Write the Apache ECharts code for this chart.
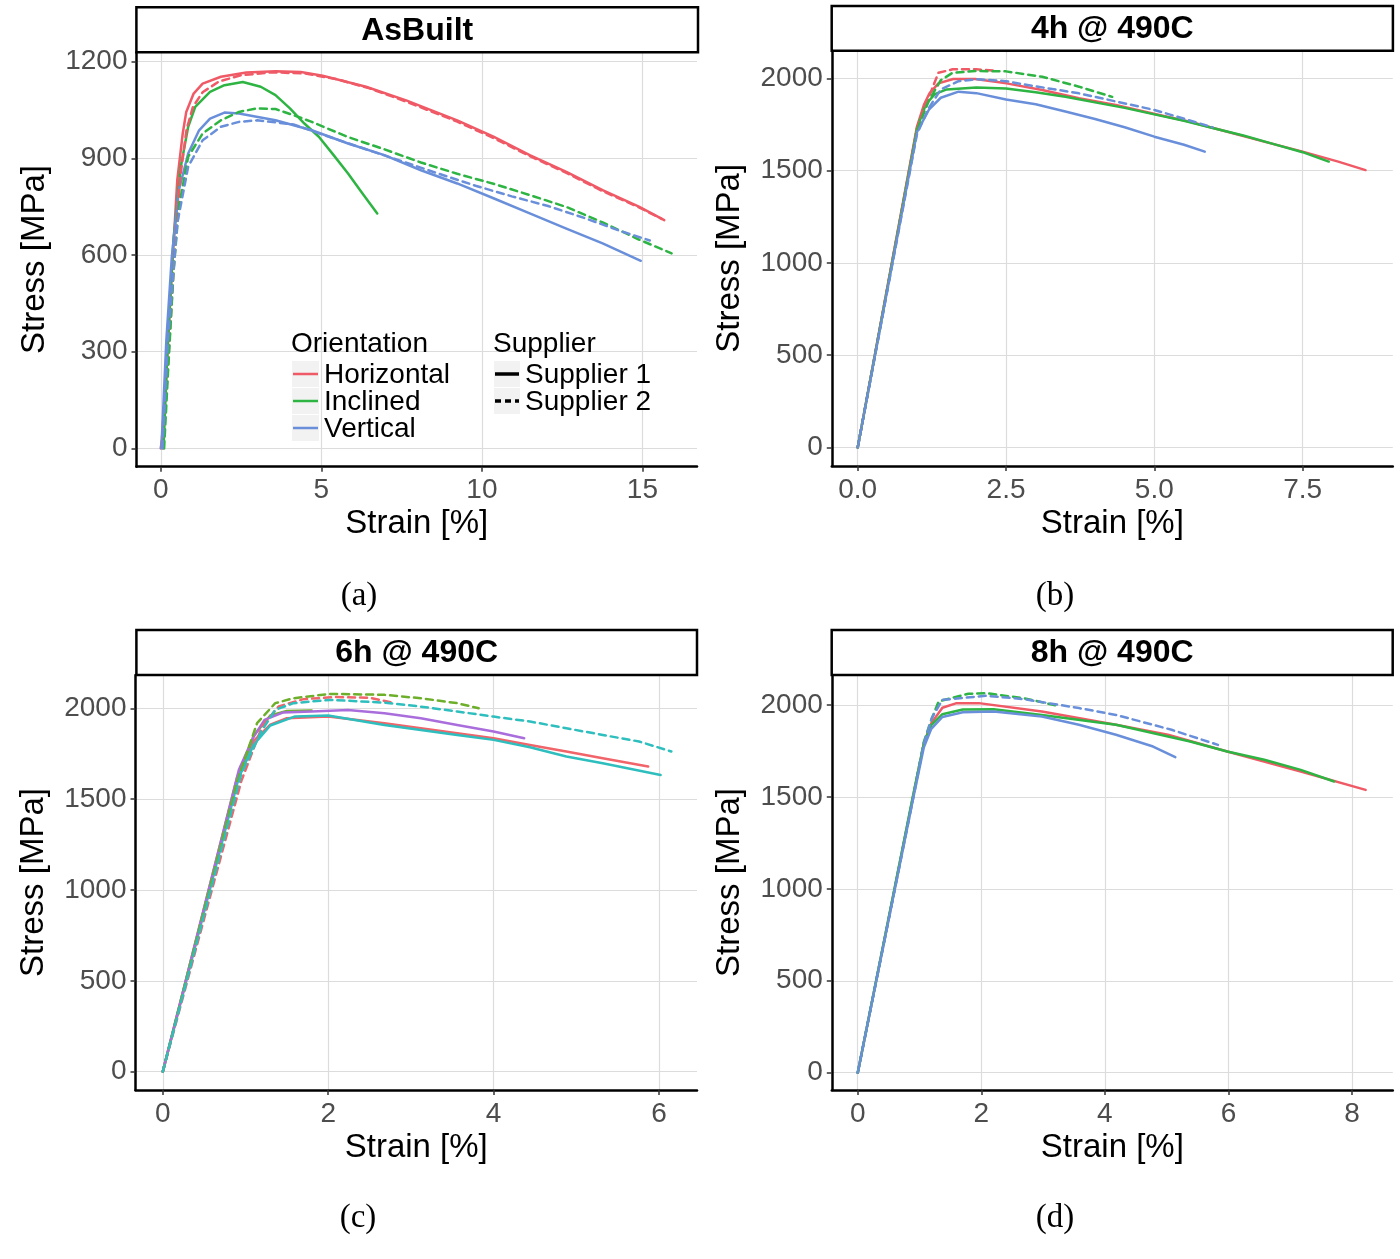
<!DOCTYPE html>
<html>
<head>
<meta charset="utf-8">
<script src="https://cdn.jsdelivr.net/npm/echarts@6/dist/echarts.min.js"></script>
<style>
html, body { margin: 0; padding: 0; background: #fff; }
#chart { width: 1400px; height: 1259px; }
</style>
</head>
<body>
<div id="chart"></div>
<script>
// panel titles and axis ticks
const panelTitles = ['AsBuilt', '4h @ 490C', '6h @ 490C', '8h @ 490C'];
const captions = ['(a)', '(b)', '(c)', '(d)'];
const xTicks = [[0, 5, 10, 15], [0, 2.5, 5, 7.5], [0, 2, 4, 6], [0, 2, 4, 6, 8]];
const yTicks = [[0, 300, 600, 900, 1200], [0, 500, 1000, 1500, 2000], [0, 500, 1000, 1500, 2000], [0, 500, 1000, 1500, 2000]];
const xRanges = [[-0.76, 16.7], [-0.437, 9.02], [-0.33, 6.46], [-0.42, 8.66]];
const yRanges = [[-57, 1229], [-101, 2150], [-101, 2183], [-94, 2163]];

// (a) AsBuilt  [strain %, stress MPa]
const asBuiltHorizontal1 = [[0,0],[0.03,26],[0.17,233],[0.34,543],[0.51,832],[0.68,977],[0.79,1044],[1.02,1101],[1.30,1132],[1.87,1153],[2.66,1166],[3.57,1170],[4.36,1168],[5.04,1156],[6.39,1122],[7.64,1080],[9.23,1018],[10.36,967],[11.49,910],[12.63,858],[13.76,801],[14.89,750],[15.68,708]];
const asBuiltHorizontal2 = [[0.05,0],[0.2,220],[0.4,560],[0.6,840],[0.8,990],[1.0,1060],[1.3,1105],[1.8,1138],[2.5,1158],[3.5,1167],[4.5,1163],[5.5,1145],[6.5,1117],[7.64,1076],[9.23,1014],[10.36,963],[11.49,907],[12.63,855],[13.76,798],[14.89,748],[15.6,712]];
const asBuiltInclined1 = [[0.08,0],[0.22,336],[0.39,646],[0.62,874],[0.85,998],[1.07,1060],[1.53,1106],[1.98,1127],[2.55,1137],[3.11,1122],[3.57,1096],[4.02,1055],[4.47,1008],[4.92,967],[5.38,910],[5.83,853],[6.28,791],[6.74,729]];
const asBuiltInclined2 = [[0.1,0],[0.22,233],[0.39,543],[0.56,749],[0.85,905],[1.30,977],[1.87,1018],[2.43,1044],[3.0,1055],[3.57,1053],[4.13,1034],[4.70,1013],[5.83,966],[6.96,928],[8.10,887],[9.23,852],[10.36,821],[11.49,786],[12.63,749],[13.76,701],[14.89,648],[15.91,605]];
const asBuiltVertical1 = [[0,0],[0.03,30],[0.17,336],[0.34,594],[0.56,801],[0.85,915],[1.19,987],[1.53,1023],[1.98,1042],[2.43,1039],[3.57,1018],[4.70,987],[5.83,946],[6.96,910],[8.10,863],[9.23,822],[10.36,776],[11.49,729],[12.63,682],[13.76,636],[14.95,582]];
const asBuiltVertical2 = [[0.05,0],[0.22,336],[0.51,698],[0.85,874],[1.30,956],[1.87,998],[2.43,1013],[3.0,1018],[4.13,1005],[5.26,966],[6.39,928],[7.53,890],[8.66,852],[9.80,815],[10.93,782],[12.06,752],[13.19,715],[14.33,674],[15.23,645]];

// (b) 4h @ 490C
const h4Horizontal1 = [[0,0],[1.0,1740],[1.12,1860],[1.21,1919],[1.36,1973],[1.61,1997],[1.98,1997],[2.51,1973],[3.11,1937],[3.73,1892],[4.35,1856],[5.01,1807],[5.6,1765],[6.23,1711],[6.85,1657],[7.5,1603],[8.1,1549],[8.56,1503]];
const h4Inclined1 = [[0,0],[1.0,1730],[1.15,1860],[1.3,1915],[1.5,1940],[2.0,1950],[2.5,1945],[3.0,1925],[3.5,1900],[4.0,1870],[4.5,1840],[5.0,1805],[5.5,1770],[6.0,1730],[6.5,1690],[7.0,1645],[7.5,1600],[7.94,1549]];
const h4Vertical1 = [[0,0],[1.0,1710],[1.2,1830],[1.4,1895],[1.7,1928],[2.0,1920],[2.5,1885],[3.0,1860],[3.5,1820],[4.0,1780],[4.5,1735],[5.0,1684],[5.5,1640],[5.85,1603]];
const h4Horizontal2 = [[0,0],[1.0,1730],[1.2,1900],[1.36,2030],[1.6,2049],[2.0,2049],[2.3,2042]];
const h4Inclined2 = [[0,0],[1.0,1720],[1.2,1880],[1.4,1990],[1.6,2030],[2.0,2040],[2.5,2038],[3.11,2009],[3.73,1955],[4.29,1900]];
const h4Vertical2 = [[0,0],[1.0,1700],[1.2,1840],[1.4,1940],[1.7,1985],[2.0,1995],[2.5,1985],[2.86,1964],[3.73,1919],[5.0,1829],[5.98,1735]];

// (c) 6h @ 490C
const h6Red1 = [[0,0],[0.9,1600],[1.1,1820],[1.3,1910],[1.5,1945],[2.0,1955],[2.68,1918],[3.56,1862],[4.0,1835],[4.44,1798],[4.88,1762],[5.32,1725],[5.87,1679]];
const h6Green1 = [[0,0],[0.9,1620],[1.1,1850],[1.3,1960],[1.5,1985],[1.8,1988]];
const h6Purple1 = [[0,0],[0.92,1661],[1.10,1844],[1.23,1936],[1.45,1976],[1.80,1982],[2.24,1991],[2.68,1973],[3.12,1945],[3.56,1908],[4.0,1872],[4.37,1835]];
const h6Cyan1 = [[0,0],[0.92,1620],[1.1,1800],[1.3,1905],[1.6,1955],[2.0,1960],[2.68,1908],[3.56,1853],[4.0,1826],[4.44,1785],[4.88,1734],[5.32,1697],[6.02,1633]];
const h6Green2 = [[0,0],[0.9,1600],[1.14,1918],[1.36,2028],[1.58,2055],[2.02,2079],[2.68,2074],[3.12,2055],[3.56,2028],[3.82,2000]];
const h6Red2 = [[0,0],[0.95,1600],[1.2,1900],[1.4,2010],[1.7,2050],[2.1,2062],[2.5,2058],[2.81,2028]];
const h6Cyan2 = [[0,0],[0.95,1640],[1.2,1880],[1.36,1991],[1.58,2028],[2.02,2046],[2.68,2031],[3.12,2009],[3.56,1982],[4.0,1954],[4.44,1927],[4.88,1890],[5.32,1853],[5.76,1817],[6.15,1762]];

// (d) 8h @ 490C
const h8Horizontal1 = [[0,0],[0.89,1493],[1.07,1792],[1.19,1901],[1.37,1985],[1.6,2010],[1.96,2010],[2.98,1965],[4.18,1892],[5.02,1838],[5.98,1747],[7.17,1638],[8.22,1538]];
const h8Inclined1 = [[0,0],[0.89,1500],[1.07,1790],[1.19,1890],[1.37,1950],[1.7,1975],[2.2,1977],[2.98,1946],[4.18,1892],[5.38,1801],[5.98,1747],[6.58,1702],[7.17,1647],[7.71,1584]];
const h8Vertical1 = [[0,0],[0.89,1480],[1.07,1770],[1.19,1870],[1.37,1935],[1.7,1960],[2.2,1965],[2.98,1937],[3.58,1892],[4.18,1838],[4.78,1774],[5.14,1716]];
const h8Inclined2 = [[0,0],[0.89,1490],[1.07,1800],[1.19,1920],[1.31,2019],[1.79,2061],[2.08,2064],[2.68,2037],[3.22,1997]];
const h8Vertical2 = [[0,0],[0.89,1480],[1.07,1790],[1.2,1930],[1.37,2028],[2.08,2050],[2.68,2032],[3.58,1983],[4.18,1946],[5.08,1865],[5.83,1783]];

const RED = '#EF5A66', GREEN = '#2DB443', BLUE = '#6A8FDA';
const RED4 = '#F0646A', OLIVE = '#6DAF2A', CYAN = '#2EBEBE', PURPLE = '#AA6EDC';
const FONT = '"Liberation Sans", Arial, sans-serif';

// plot areas (left, top, width, height)
const panels = [
  { left: 136.5, top: 52.3, width: 560.5, height: 414.4 },
  { left: 831.8, top: 50.7, width: 561, height: 415.3 },
  { left: 135.5, top: 675, width: 561.5, height: 415 },
  { left: 831.8, top: 675, width: 561, height: 415 }
];

const fmtX = [v => String(v), v => v.toFixed(1), v => String(v), v => String(v)];

const xAxes = panels.map((p, i) => ({
  type: 'value', gridIndex: i, min: xRanges[i][0], max: xRanges[i][1],
  name: 'Strain [%]', nameLocation: 'middle', nameGap: 41,
  nameTextStyle: { fontSize: 33, color: '#000', fontFamily: FONT },
  axisLine: { show: true, onZero: false, lineStyle: { color: '#000', width: 2.5 } },
  axisTick: { show: true, length: 5, customValues: xTicks[i], lineStyle: { color: '#333', width: 1.5 } },
  axisLabel: { customValues: xTicks[i], formatter: fmtX[i], fontSize: 28, color: '#4D4D4D', margin: 10, fontFamily: FONT },
  splitLine: { show: true, lineStyle: { color: '#DCDCDC', width: 1.2 } }
}));

const yAxes = panels.map((p, i) => ({
  type: 'value', gridIndex: i, min: yRanges[i][0], max: yRanges[i][1],
  name: 'Stress [MPa]', nameLocation: 'middle', nameGap: 85,
  nameTextStyle: { fontSize: 33, color: '#000', fontFamily: FONT },
  axisLine: { show: true, onZero: false, lineStyle: { color: '#000', width: 2.5 } },
  axisTick: { show: true, length: 5, customValues: yTicks[i], lineStyle: { color: '#333', width: 1.5 } },
  axisLabel: { customValues: yTicks[i], formatter: v => String(v), fontSize: 28, color: '#4D4D4D', margin: 9, fontFamily: FONT },
  splitLine: { show: true, lineStyle: { color: '#DCDCDC', width: 1.2 } }
}));

function curve(data, grid, color, dashed) {
  return {
    type: 'line', xAxisIndex: grid, yAxisIndex: grid, data: data,
    showSymbol: false, symbol: 'none', smooth: false,
    lineStyle: { color: color, width: 2.5, type: dashed ? [7, 5] : 'solid', join: 'round', cap: 'round' },
    silent: true, z: dashed ? 3 : 2
  };
}

const series = [
  curve(asBuiltHorizontal1, 0, RED, false),
  curve(asBuiltHorizontal2, 0, RED, true),
  curve(asBuiltInclined1, 0, GREEN, false),
  curve(asBuiltInclined2, 0, GREEN, true),
  curve(asBuiltVertical1, 0, BLUE, false),
  curve(asBuiltVertical2, 0, BLUE, true),
  curve(h4Horizontal1, 1, RED, false),
  curve(h4Inclined1, 1, GREEN, false),
  curve(h4Vertical1, 1, BLUE, false),
  curve(h4Horizontal2, 1, RED, true),
  curve(h4Inclined2, 1, GREEN, true),
  curve(h4Vertical2, 1, BLUE, true),
  curve(h6Red1, 2, RED4, false),
  curve(h6Green1, 2, OLIVE, false),
  curve(h6Cyan1, 2, CYAN, false),
  curve(h6Purple1, 2, PURPLE, false),
  curve(h6Green2, 2, OLIVE, true),
  curve(h6Red2, 2, RED4, true),
  curve(h6Cyan2, 2, CYAN, true),
  curve(h8Horizontal1, 3, RED, false),
  curve(h8Inclined1, 3, GREEN, false),
  curve(h8Vertical1, 3, BLUE, false),
  curve(h8Inclined2, 3, GREEN, true),
  curve(h8Vertical2, 3, BLUE, true)
];

// strips, captions and the legend of panel (a)
const graphic = [];
const strips = [
  { x: 136.4, y: 7.3, w: 561.6, h: 45 },
  { x: 831.7, y: 6, w: 561.2, h: 44.7 },
  { x: 136.4, y: 630, w: 560.6, h: 45 },
  { x: 831.7, y: 630, w: 561, h: 45 }
];
strips.forEach((s, i) => {
  graphic.push({ type: 'rect', shape: { x: s.x, y: s.y, width: s.w, height: s.h },
    style: { fill: '#fff', stroke: '#000', lineWidth: 2.5 }, z: 10 });
  graphic.push({ type: 'text', x: s.x + s.w / 2, y: s.y + s.h / 2 + 1, z: 11,
    style: { text: panelTitles[i], font: 'bold 32px ' + FONT, fill: '#000', align: 'center', verticalAlign: 'middle' } });
});
const capPos = [[359, 596], [1055, 596], [358, 1218], [1055, 1218]];
capPos.forEach((c, i) => {
  graphic.push({ type: 'text', x: c[0], y: c[1], z: 11,
    style: { text: captions[i], font: '33px "Liberation Serif", "DejaVu Serif", serif', fill: '#000', align: 'center', verticalAlign: 'middle' } });
});

const legFont = '28px ' + FONT;
graphic.push({ type: 'text', x: 291, y: 344, z: 11, style: { text: 'Orientation', font: legFont, fill: '#000', verticalAlign: 'middle' } });
graphic.push({ type: 'text', x: 493, y: 344, z: 11, style: { text: 'Supplier', font: legFont, fill: '#000', verticalAlign: 'middle' } });
const orientKeys = [['Horizontal', RED], ['Inclined', GREEN], ['Vertical', BLUE]];
orientKeys.forEach((k, i) => {
  const cy = 374 + i * 27;
  graphic.push({ type: 'rect', shape: { x: 292, y: cy - 13, width: 27, height: 26 }, style: { fill: '#F2F2F2' }, z: 10 });
  graphic.push({ type: 'line', shape: { x1: 293, y1: cy, x2: 318, y2: cy }, style: { stroke: k[1], lineWidth: 2.5 }, z: 11 });
  graphic.push({ type: 'text', x: 324, y: cy + 1, z: 11, style: { text: k[0], font: legFont, fill: '#000', verticalAlign: 'middle' } });
});
const supplierKeys = [['Supplier 1', null], ['Supplier 2', [6, 4]]];
supplierKeys.forEach((k, i) => {
  const cy = 374 + i * 27;
  graphic.push({ type: 'rect', shape: { x: 494, y: cy - 13, width: 26, height: 26 }, style: { fill: '#F2F2F2' }, z: 10 });
  graphic.push({ type: 'line', shape: { x1: 495, y1: cy, x2: 519, y2: cy }, style: { stroke: '#000', lineWidth: 3.5, lineDash: k[1] }, z: 11 });
  graphic.push({ type: 'text', x: 525, y: cy + 1, z: 11, style: { text: k[0], font: legFont, fill: '#000', verticalAlign: 'middle' } });
});

const chart = echarts.init(document.getElementById('chart'));
chart.setOption({
  animation: false,
  backgroundColor: '#fff',
  grid: panels,
  xAxis: xAxes,
  yAxis: yAxes,
  series: series,
  graphic: graphic
});
</script>
</body>
</html>
